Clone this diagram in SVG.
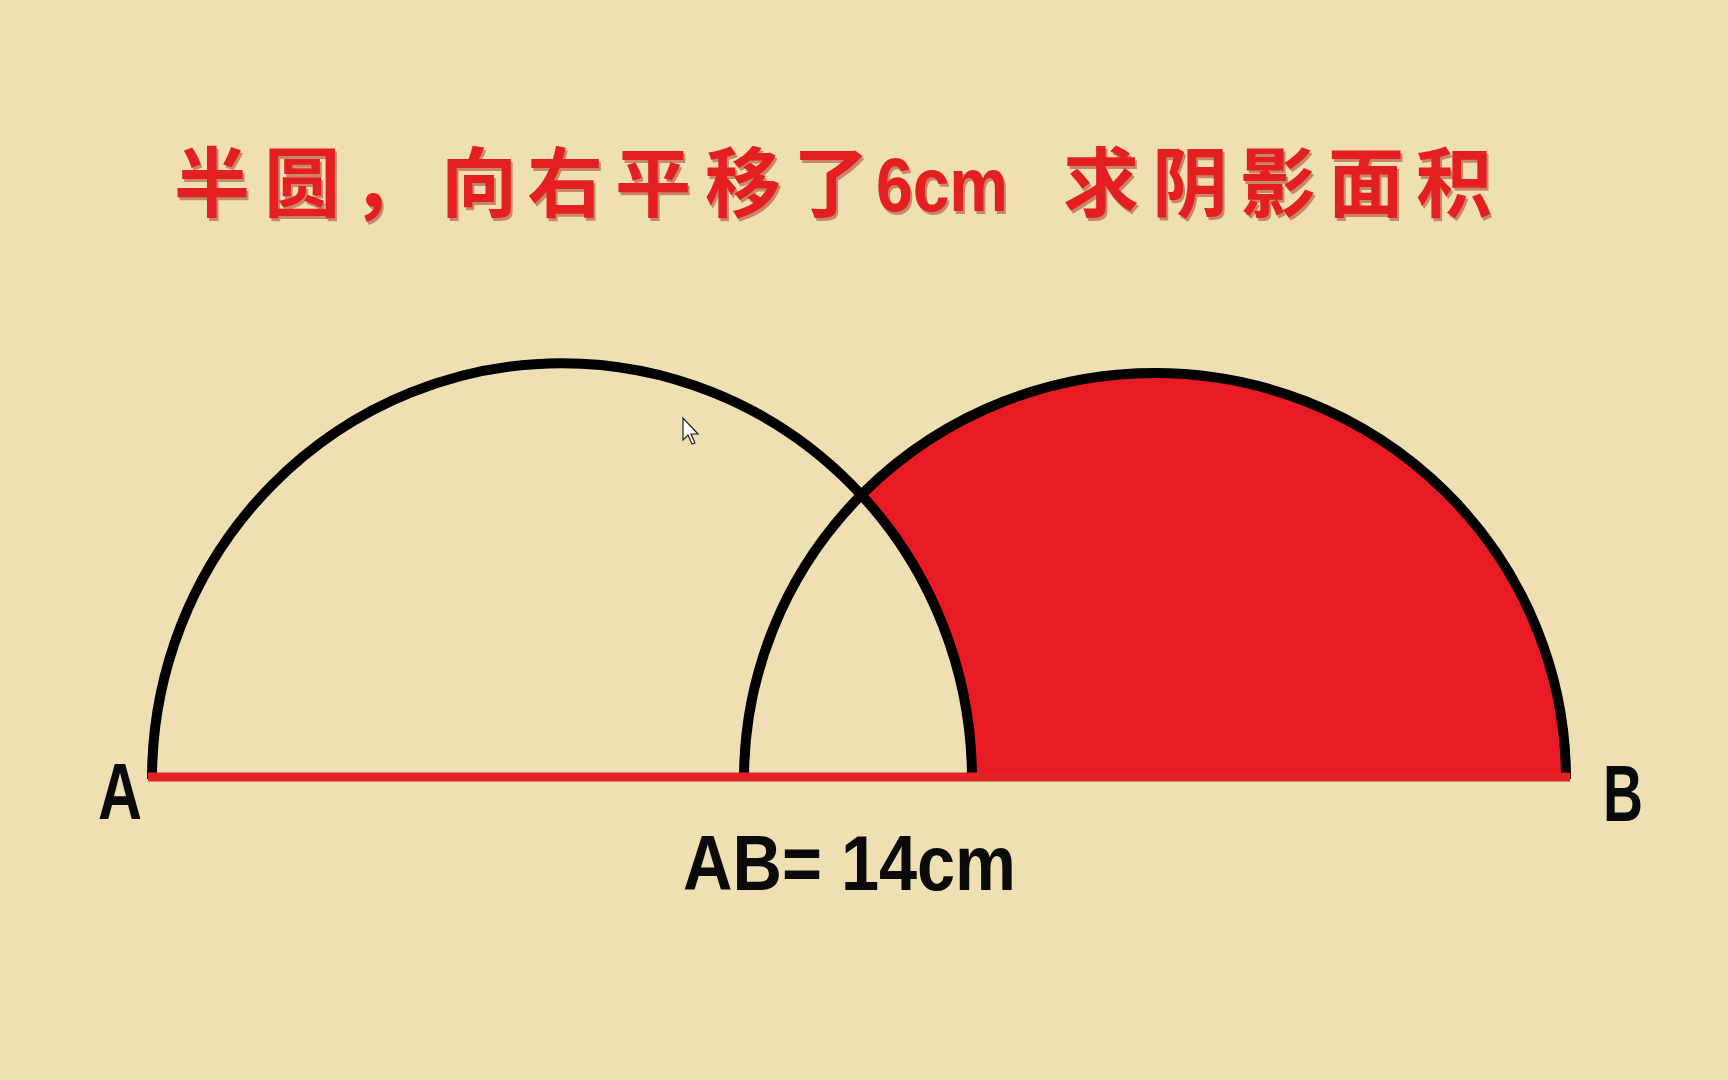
<svg xmlns="http://www.w3.org/2000/svg" width="1728" height="1080" viewBox="0 0 1728 1080">
<style>
.arc{fill:none;stroke:#000;stroke-width:10;stroke-linecap:butt}
.lbl{font-family:"Liberation Sans","Noto Sans",sans-serif;font-weight:bold;fill:#0a0a0a}
.cjk{font-family:"Noto Sans CJK SC","Noto Sans",sans-serif;font-weight:bold;font-size:76px}
.num{font-family:"Liberation Sans","Noto Sans",sans-serif;font-weight:bold;font-size:76px}
.sh{fill:#9a1a14;opacity:0.45}
.fg{fill:#E3201F}
</style>
<rect width="1728" height="1080" fill="#EFE0B4"/>
<g id="title">
<g class="sh" transform="translate(2,3)">
<text class="cjk" x="174 264 352 441 527 615 705 793" y="211">半圆，向右平移了</text>
<text class="num" x="876" y="211" textLength="132" lengthAdjust="spacingAndGlyphs">6cm</text>
<text class="cjk" x="1063 1152 1240 1328 1416" y="211">求阴影面积</text>
</g>
<g class="fg">
<text class="cjk" x="174 264 352 441 527 615 705 793" y="211">半圆，向右平移了</text>
<text class="num" x="876" y="211" textLength="132" lengthAdjust="spacingAndGlyphs">6cm</text>
<text class="cjk" x="1063 1152 1240 1328 1416" y="211">求阴影面积</text>
</g>
</g>
<g id="shaded">
<path d="M 861 493.5 A 411 406 0 0 1 1566 777 L 972 777 A 410 414 0 0 0 861 493.5 Z" fill="#E81A24"/>
</g>
<g id="semicircle-left">
<path class="arc" d="M 152 779 A 410 416 0 0 1 972 779"/>
</g>
<g id="semicircle-right">
<path class="arc" d="M 744 779 A 411 406 0 0 1 1566 779"/>
</g>
<g id="connectors">
<line x1="148" y1="777" x2="1570" y2="777" stroke="#E32227" stroke-width="9"/>
</g>
<g id="label-A"><text class="lbl" x="98" y="819" font-size="80" textLength="44" lengthAdjust="spacingAndGlyphs">A</text></g>
<g id="label-B"><text class="lbl" x="1603" y="821" font-size="80" textLength="40" lengthAdjust="spacingAndGlyphs">B</text></g>
<g id="label-AB"><text class="lbl" x="683" y="890" font-size="78" textLength="333" lengthAdjust="spacingAndGlyphs">AB= 14cm</text></g>
<g id="cursor">
<path d="M 683 418 L 683 440 L 688 435 L 692 444 L 695 443 L 691 434 L 698 434 Z" fill="#fff" stroke="#222" stroke-width="1.2"/>
</g>
</svg>
